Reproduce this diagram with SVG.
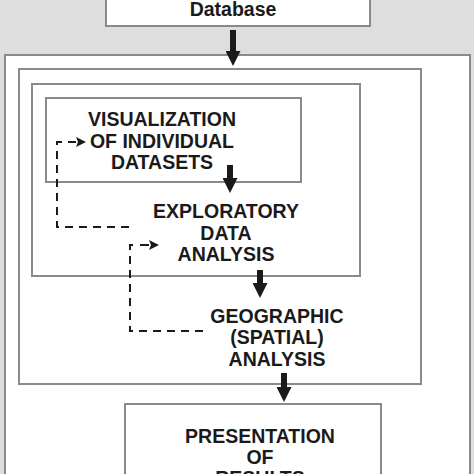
<svg xmlns="http://www.w3.org/2000/svg" width="474" height="474" viewBox="0 0 474 474">
<style>
.box{fill:#fff;stroke:#8a8a8a;stroke-width:2}
.t{font-family:"Liberation Sans",Arial,sans-serif;font-weight:bold;font-size:19.5px;fill:#1a1a1a;text-anchor:middle}
.dash{fill:none;stroke:#1a1a1a;stroke-width:2;stroke-dasharray:8,6}
.sh{fill:none;stroke:#1a1a1a;stroke-width:6}
</style>
<defs>
<marker id="big" markerWidth="15" markerHeight="15" refX="0" refY="7.5" orient="auto" markerUnits="userSpaceOnUse" viewBox="0 0 15 15">
<path d="M0,0 L15,7.5 L0,15 Z" fill="#1a1a1a"/>
</marker>
<marker id="small" markerWidth="10" markerHeight="10" refX="0" refY="5" orient="auto" markerUnits="userSpaceOnUse" viewBox="0 0 10 10">
<path d="M0,0 L10,5 L0,10 L2,5 Z" fill="#1a1a1a"/>
</marker>
</defs>
<rect x="0" y="0" width="474" height="474" fill="#dedede"/>
<g id="database">
<rect class="box" x="106" y="-2" width="264" height="28"/>
<text class="t" x="233" y="16">Database</text>
</g>
<g id="outer">
<rect class="box" x="5" y="55" width="465" height="430"/>
</g>
<g id="geographic">
<rect class="box" x="19" y="69" width="402" height="315"/>
<text class="t" x="277" y="323">GEOGRAPHIC</text>
<text class="t" x="277" y="344">(SPATIAL)</text>
<text class="t" x="277" y="366">ANALYSIS</text>
</g>
<g id="exploratory">
<rect class="box" x="32" y="84" width="328" height="192"/>
<text class="t" x="226" y="218">EXPLORATORY</text>
<text class="t" x="226" y="240">DATA</text>
<text class="t" x="226" y="261">ANALYSIS</text>
</g>
<g id="visualization">
<rect class="box" x="46" y="98" width="255" height="84"/>
<text class="t" x="162" y="126">VISUALIZATION</text>
<text class="t" x="162" y="148">OF INDIVIDUAL</text>
<text class="t" x="162" y="169">DATASETS</text>
</g>
<g id="presentation">
<rect class="box" x="125" y="404" width="256" height="90"/>
<text class="t" x="260" y="443">PRESENTATION</text>
<text class="t" x="260" y="464">OF</text>
<text class="t" x="260" y="485">RESULTS</text>
</g>
<g id="connectors">
<path class="sh" d="M233,30 V51" marker-end="url(#big)"/>
<path class="sh" d="M230,165 V178" marker-end="url(#big)"/>
<path class="sh" d="M260,270 V283" marker-end="url(#big)"/>
<path class="sh" d="M284,373 V387" marker-end="url(#big)"/>
<path class="dash" d="M129,227 H57 V142 H63"/>
<path d="M68,142 H76" stroke="#1a1a1a" stroke-width="2" marker-end="url(#small)"/>
<path class="dash" d="M203,331 H130 V245 H135"/>
<path d="M140,245 H149" stroke="#1a1a1a" stroke-width="2" marker-end="url(#small)"/>
</g>
</svg>
